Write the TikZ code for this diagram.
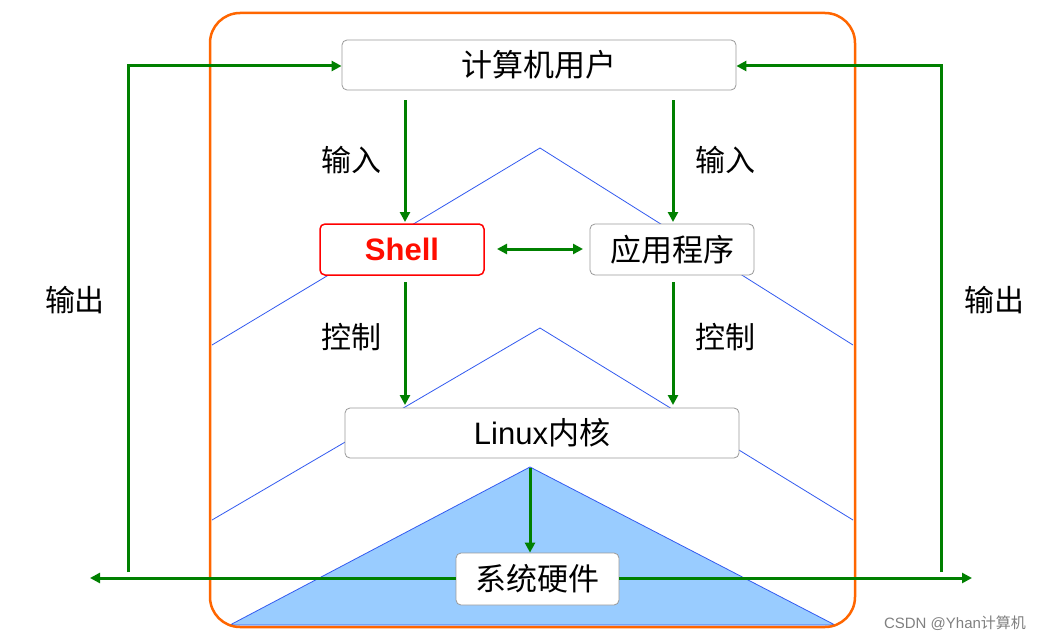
\documentclass[tikz,border=0pt]{standalone}
\usepackage{fontspec}
\setmainfont{Liberation Sans}
\newfontfamily\cjk{Noto Sans CJK SC}
\usetikzlibrary{arrows.meta}
\definecolor{org}{RGB}{255,102,0}
\definecolor{grn}{RGB}{0,128,0}
\definecolor{lb}{RGB}{153,204,255}
\definecolor{bl}{RGB}{50,90,240}
\begin{document}
\begin{tikzpicture}[x=1pt,y=-1pt,
 box/.style={draw=gray!80,fill=white,rounded corners=5pt,line width=0.8pt,inner sep=0pt,font=\cjk\fontsize{31}{33}\selectfont},
 arr/.style={draw=grn,line width=3pt,-{Triangle[length=10pt,width=10pt]}},
 lab/.style={font=\cjk\fontsize{30}{33}\selectfont}]
\useasboundingbox (0,0) rectangle (1055,642);
\fill[white] (0,0) rectangle (1055,642);
\draw[bl,line width=0.8pt] (212,345) -- (540,148) -- (853,345);
\draw[bl,line width=0.8pt] (212,520) -- (540,328) -- (853,520);
\draw[bl,fill=lb,line width=0.8pt] (230,625) -- (530,467) -- (835,625) -- cycle;
\draw[org,line width=2.5pt,rounded corners=30pt] (210,13) rectangle (855,627);
\node[box,minimum width=394pt,minimum height=50pt] (user) at (539,65) {计算机用户};
\node[box,draw=red,line width=1.5pt,minimum width=164pt,minimum height=51pt,font=\bfseries\fontsize{31}{33}\selectfont,text=red!90!orange] (shell) at (402,249.5) {Shell};
\node[box,minimum width=164pt,minimum height=51pt] (app) at (672,249.5) {应用程序};
\node[box,minimum width=394pt,minimum height=50pt] (kern) at (542,433) {\fontspec{Liberation Sans}Linux\cjk 内核};
\node[box,minimum width=163pt,minimum height=52pt] (hw) at (537.5,579) {系统硬件};
\coordinate (a1) at (405,100); \coordinate (a2) at (673,100);
\draw[arr] (a1) -- (405,222);
\draw[arr] (a2) -- (673,222);
\draw[arr] (405,282) -- (405,405);
\draw[arr] (673,282) -- (673,405);
\draw[arr,{Triangle[length=10pt,width=10pt]}-{Triangle[length=10pt,width=10pt]}] (497,249) -- (583,249);
\draw[arr] (530,468) -- (hw.north -| 530,0);
\draw[arr] (hw.west |- 0,578) -- (90,578);
\draw[arr] (hw.east |- 0,578) -- (972,578);
\draw[arr] (128,572) -- (128,66) -- (user.west |- 0,66);
\draw[arr] (941,572) -- (941,66) -- (user.east |- 0,66);
\node[lab] (i1) at (351,160) {输入};
\node[lab] (i2) at (725,160) {输入};
\node[lab] (c1) at (351,337) {控制};
\node[lab] (c2) at (725,337) {控制};
\node[lab] (o1) at (75,300) {输出};
\node[lab] (o2) at (994,300) {输出};
\node[text=gray,font=\fontsize{15}{17}\selectfont] (wm) at (955,623) {CSDN @Yhan{\cjk 计算机}};
\end{tikzpicture}
\end{document}
